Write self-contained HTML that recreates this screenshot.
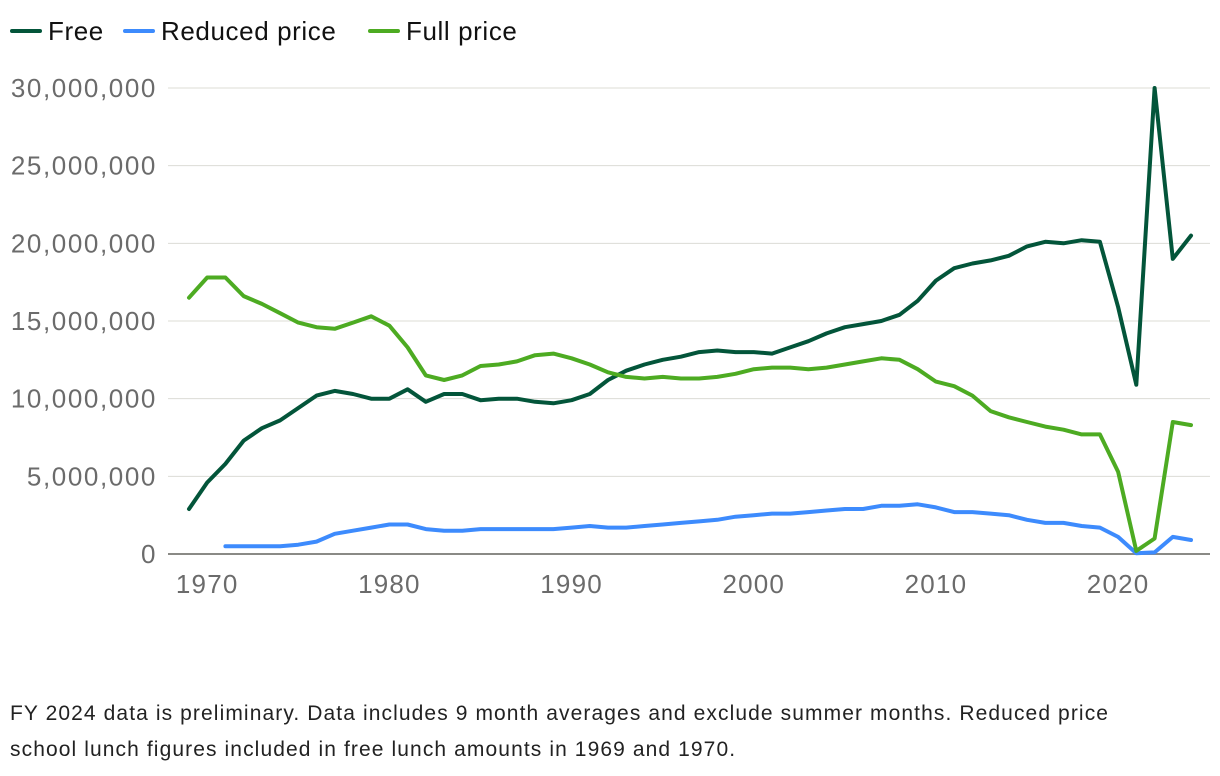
<!DOCTYPE html>
<html><head><meta charset="utf-8"><style>
body{margin:0;background:#fff;width:1220px;height:776px;overflow:hidden;font-family:"Liberation Sans",sans-serif}
.note{position:absolute;left:10px;top:696px;font-size:21px;letter-spacing:1.1px;line-height:36px;color:#222;width:1210px;white-space:nowrap}
</style></head><body>
<svg id="chart" width="1220" height="680" style="position:absolute;left:0;top:0"></svg>
<div class="note">FY 2024 data is preliminary. Data includes 9 month averages and exclude summer months. Reduced price<br>school lunch figures included in free lunch amounts in 1969 and 1970.</div>
<script>
const years=[];for(let y=1969;y<=2024;y++)years.push(y);
const freeVals=[2.9,4.6,5.8,7.3,8.1,8.6,9.4,10.2,10.5,10.3,10.0,10.0,10.6,9.8,10.3,10.3,9.9,10.0,10.0,9.8,9.7,9.9,10.3,11.2,11.8,12.2,12.5,12.7,13.0,13.1,13.0,13.0,12.9,13.3,13.7,14.2,14.6,14.8,15.0,15.4,16.3,17.6,18.4,18.7,18.9,19.2,19.8,20.1,20.0,20.2,20.1,15.9,10.9,30.0,19.0,20.5];
const reducedVals=[null,null,0.5,0.5,0.5,0.5,0.6,0.8,1.3,1.5,1.7,1.9,1.9,1.6,1.5,1.5,1.6,1.6,1.6,1.6,1.6,1.7,1.8,1.7,1.7,1.8,1.9,2.0,2.1,2.2,2.4,2.5,2.6,2.6,2.7,2.8,2.9,2.9,3.1,3.1,3.2,3.0,2.7,2.7,2.6,2.5,2.2,2.0,2.0,1.8,1.7,1.1,0.05,0.1,1.1,0.9];
const fullVals=[16.5,17.8,17.8,16.6,16.1,15.5,14.9,14.6,14.5,14.9,15.3,14.7,13.3,11.5,11.2,11.5,12.1,12.2,12.4,12.8,12.9,12.6,12.2,11.7,11.4,11.3,11.4,11.3,11.3,11.4,11.6,11.9,12.0,12.0,11.9,12.0,12.2,12.4,12.6,12.5,11.9,11.1,10.8,10.2,9.2,8.8,8.5,8.2,8.0,7.7,7.7,5.3,0.2,1.0,8.5,8.3];
const yTicks=[0,5,10,15,20,25,30];
const yTickLabels=["0","5,000,000","10,000,000","15,000,000","20,000,000","25,000,000","30,000,000"];
const xTicks=[1970,1980,1990,2000,2010,2020];
const seriesNames=["Free","Reduced price","Full price"];
const colors=["#03553a","#3d8bfd","#4dab22"];
const NS="http://www.w3.org/2000/svg",svg=document.getElementById('chart');
const X=y=>189+(y-1969)*(1191-189)/55, Y=v=>554-v*(554-88)/30;
function mk(t,a){const e=document.createElementNS(NS,t);for(const k in a)e.setAttribute(k,a[k]);svg.appendChild(e);return e;}
yTicks.forEach((t,i)=>{
 const l=mk('line',{x1:168,x2:1210,y1:Y(t),y2:Y(t),stroke:t===0?'#8a8a86':'#dcdcd6','stroke-width':t===0?2:1});
 
 
 const tx=mk('text',{x:157,y:Y(t)+9,'text-anchor':'end','font-size':26,'letter-spacing':1.6,fill:'#6b6b6b','font-family':'Liberation Sans, sans-serif'});
 tx.textContent=yTickLabels[i];
 
 
});
xTicks.forEach(t=>{
 const tx=mk('text',{x:X(t),y:593,'text-anchor':'middle','font-size':26,'letter-spacing':1.2,fill:'#6b6b6b','font-family':'Liberation Sans, sans-serif'});
 tx.textContent=t;
 
 
});
[freeVals,reducedVals,fullVals].forEach((vals,si)=>{
 let d='';vals.forEach((v,i)=>{if(v==null)return;d+=(d?'L':'M')+X(years[i]).toFixed(1)+','+Y(v).toFixed(1);});
 const p=mk('path',{d:d,fill:'none',stroke:colors[si],'stroke-width':4,'stroke-linejoin':'round','stroke-linecap':'round'});
 
 
});
const legendX=[12,125,370];
seriesNames.forEach((n,i)=>{
 const lx=legendX[i];
 const l=mk('line',{x1:lx,x2:lx+28,y1:31,y2:31,stroke:colors[i],'stroke-width':4,'stroke-linecap':'round'});
 
 
 const tx=mk('text',{x:lx+36,y:40,'font-size':26,'letter-spacing':0.6,fill:'#111','font-family':'Liberation Sans, sans-serif'});
 tx.textContent=n;
 
 
});
</script>
</body></html>
